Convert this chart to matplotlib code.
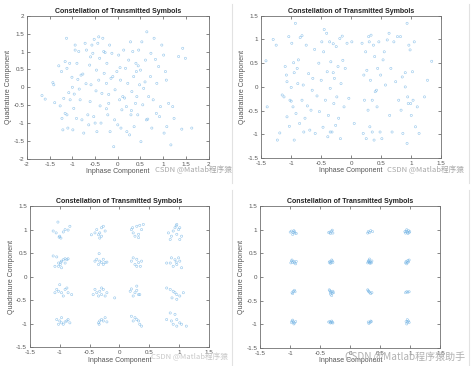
import matplotlib.pyplot as plt
from matplotlib.lines import Line2D

# Panel 1: received symbols, heavy noise
i1 = [-1.67, -1.60, -1.43, -1.41, -1.39, -1.30, -1.27, -1.24, -1.23, -1.21, -1.19, -1.16, -1.16, -1.13,
      -1.12, -1.12, -1.10, -1.08, -1.06, -1.05, -1.01, -0.99, -0.97, -0.96, -0.94, -0.94, -0.91, -0.90,
      -0.88, -0.86, -0.83, -0.81, -0.79, -0.77, -0.75, -0.72, -0.69, -0.66, -0.64, -0.62, -0.61, -0.59,
      -0.57, -0.55, -0.53, -0.52, -0.50, -0.47, -0.46, -0.44, -0.42, -0.42, -0.40, -0.39, -0.37, -0.35,
      -0.33, -0.31, -0.30, -0.28, -0.25, -0.24, -0.22, -0.20, -0.20, -0.18, -0.17, -0.13, -0.11, -0.09,
      -0.07, -0.06, -0.02, 0.00, 0.02, 0.04, 0.06, 0.07, 0.09, 0.11, 0.13, 0.17, 0.19, 0.20, 0.22, 0.24,
      0.26, 0.28, 0.29, 0.31, 0.33, 0.35, 0.36, 0.39, 0.40, 0.41, 0.42, 0.44, 0.46, 0.48, 0.50, 0.51,
      0.53, 0.55, 0.57, 0.61, 0.63, 0.64, 0.66, 0.68, 0.72, 0.73, 0.75, 0.78, 0.80, 0.83, 0.85, 0.86,
      0.90, 0.92, 0.94, 0.97, 1.01, 1.02, 1.05, 1.07, 1.08, 1.12, 1.17, 1.21, 1.24, 1.34, 1.41, 1.43,
      1.49, 1.63, -0.70, -0.48, -0.15, 0.15, 0.45, -0.85, -0.25, 0.05, 0.30, 0.60, -1.00, -0.60]
q1 = [-0.23, -0.33, 0.13, 0.07, -0.43, 0.60, -0.52, 0.44, -0.87, -1.19, -0.31, 0.72, -0.73, 1.37,
      0.53, -0.77, -1.14, -0.15, 0.67, -0.35, 0.28, -1.19, -0.59, -0.19, 1.04, 1.18, -0.87, 0.67,
      0.22, 1.00, -0.35, 0.34, -0.91, 0.37, -1.28, 1.23, 1.04, -0.77, -1.05, 0.62, -0.40, 0.07,
      1.18, 0.95, -0.82, 1.34, -1.00, 0.48, -1.24, 1.23, 0.20, 1.41, 0.81, -0.52, -1.00, -0.17,
      1.37, 1.00, 0.39, 0.97, 0.11, 0.67, -0.77, -0.20, -0.45, 1.18, -1.24, 0.95, 0.30, -1.66,
      -0.91, -0.07, 0.44, -1.05, 0.90, -0.35, 0.20, -1.14, -0.63, -0.26, 1.04, 0.53, -0.54, -1.24, 0.11, 0.76,
      -1.33, 1.27, -0.77, -0.12, 1.00, 0.30, -1.10, -0.45, 0.67, 0.44, -0.26, -0.77, 1.04, 0.07, 0.48, -1.52,
      1.27, -0.49, -0.03, 0.76, -0.91, 1.55, -0.89, -0.26, 0.30, 0.95, -1.14, -0.35, 1.37, 0.78, -0.73, 0.11,
      0.58, -0.82, -0.54, 1.18, 0.90, -1.28, 0.44, 0.20, -1.10, -0.45, -1.61, -0.54, -0.87, 0.86, -1.17, 1.09,
      0.81, -1.14, 0.10, -0.10, 0.25, -0.30, 0.60, -0.05, -0.60, 0.55, -0.65, 0.15, 0.00, 0.85]

# Panel 2: received symbols, medium noise
i2 = [-1.42, -1.40, -1.30, -1.25, -1.23, -1.19, -1.15, -1.12, -1.10, -1.08, -1.07, -1.07, -1.04, -1.03,
      -1.02, -1.00, -0.99, -0.97, -0.96, -0.95, -0.93, -0.92, -0.90, -0.89, -0.88, -0.86, -0.85, -0.82,
      -0.82, -0.80, -0.79, -0.77, -0.75, -0.73, -0.71, -0.69, -0.67, -0.65, -0.64, -0.61, -0.60, -0.57,
      -0.54, -0.53, -0.50, -0.49, -0.47, -0.46, -0.45, -0.43, -0.41, -0.40, -0.39, -0.38, -0.36, -0.35,
      -0.34, -0.32, -0.30, -0.29, -0.28, -0.26, -0.25, -0.24, -0.22, -0.21, -0.19, -0.18, -0.17, -0.15,
      -0.14, -0.12, -0.10, -0.07, -0.04, 0.01, 0.05, 0.18, 0.20, 0.21, 0.22, 0.24, 0.25, 0.26, 0.28,
      0.29, 0.31, 0.32, 0.33, 0.35, 0.37, 0.38, 0.39, 0.40, 0.42, 0.43, 0.44, 0.46, 0.48, 0.49, 0.51,
      0.53, 0.55, 0.57, 0.60, 0.63, 0.64, 0.66, 0.68, 0.71, 0.74, 0.77, 0.79, 0.82, 0.83, 0.85, 0.86,
      0.90, 0.93, 0.93, 0.94, 0.96, 0.98, 0.99, 1.00, 1.02, 1.03, 1.05, 1.07, 1.10, 1.13, 1.22, 1.27,
      1.34, -1.00, -0.30, 0.30, 0.95, -0.95, -0.35, 0.35, 0.90]
q2 = [0.55, -0.42, 1.00, 0.88, -1.12, -0.97, -0.17, -0.21, 0.43, 0.25, 0.11, -0.63, 1.06, -0.83,
      -0.28, -0.01, 0.92, -0.42, 0.51, -1.12, 1.34, -0.56, 0.39, 0.07, 0.57, -0.77, 1.04, 1.08,
      -0.28, 0.04, -0.95, -0.66, 0.88, -0.40, 0.28, -0.91, -0.49, -0.07, 0.18, 0.79, -0.98, -0.19,
      0.50, -0.52, 0.14, 0.95, -0.85, 0.74, 1.21, -0.28, 1.13, 0.32, -1.05, -0.60, 0.95, -0.03,
      0.53, -0.95, 0.91, -0.35, 0.18, -0.81, 0.85, -0.21, 0.43, -0.66, 1.02, -1.09, 0.07, 1.07,
      0.56, -0.42, 0.39, 0.92, -0.24, 0.95, -0.77, 0.92, -0.98, 0.25, -0.28, 0.74, -1.09, 0.35, -0.49,
      1.06, -0.84, 0.14, 1.09, -0.28, 0.88, -1.12, 0.64, -0.10, -0.07, -0.42, 0.39, 0.95, -0.95, 0.25, -1.09,
      0.57, 0.74, 0.04, 0.99, 1.13, -0.60, 0.39, -0.95, 0.95, 0.11, 1.06, -0.28, 1.06, -0.49, 0.21, -0.98,
      0.00, 1.34, -1.19, -0.21, 0.88, 0.78, -0.35, -0.60, 0.32, -0.28, 0.95, -0.84, -0.42, -0.98, -0.21, 0.14,
      0.54, -0.30, 0.30, 0.95, -0.35, 0.30, -0.95, -0.95, 0.30]

# Panel 3: 16-QAM, moderate noise
i3 = [-1.03, -1.11, -1.06, -1.00, -0.98, -0.91, -0.86, -0.83, -0.94, -1.01,
      -0.33, -0.30, -0.27, -0.35, -0.41, -0.47, -0.30, -0.24, -0.33, -0.38,
      0.20, 0.23, 0.29, 0.34, 0.40, 0.32, 0.26, 0.32, 0.22, 0.37,
      0.82, 0.87, 0.93, 0.96, 0.99, 1.01, 0.90, 0.96, 1.04, 1.01, 0.85, 0.95,
      -1.11, -1.05, -1.02, -0.99, -0.97, -0.94, -0.91, -0.88, -0.86, -1.02, -0.97, -1.08, -0.91, -0.98,
      -0.34, -0.38, -0.33, -0.27, -0.30, -0.24, -0.35, -0.41, -0.27, -0.21,
      0.23, 0.29, 0.32, 0.26, 0.35, 0.20, 0.37, 0.29,
      0.79, 0.85, 0.93, 0.99, 0.96, 0.90, 1.01, 1.04, 0.87, 0.95,
      -1.00, -1.08, -1.02, -0.97, -0.91, -0.88, -0.86, -0.80, -0.94, -1.05,
      -0.41, -0.38, -0.33, -0.30, -0.27, -0.24, -0.21, -0.35, -0.44, -0.30,
      -0.08, 0.18, 0.26, 0.29, 0.32, 0.23, 0.34, 0.20, 0.29,
      0.79, 0.85, 0.90, 0.93, 0.96, 1.01, 1.07, 0.88, 0.96,
      -1.05, -1.00, -0.97, -0.91, -0.88, -0.86, -1.02, -0.94, -0.83, -0.97,
      -0.35, -0.33, -0.30, -0.27, -0.24, -0.34, -0.21,
      0.20, 0.26, 0.29, 0.32, 0.34, 0.37, 0.23,
      0.85, 0.93, 0.79, 0.87, 0.96, 1.01, 0.90, 1.04, 1.12, 0.96]
q3 = [1.16, 0.97, 0.93, 0.86, 0.82, 1.00, 0.99, 1.07, 0.95, 0.84,
      0.93, 1.04, 1.07, 0.89, 0.93, 0.89, 0.86, 0.97, 0.82, 1.00,
      1.00, 0.93, 1.07, 1.09, 1.11, 0.90, 0.86, 0.83, 1.04, 1.00,
      0.93, 0.86, 1.04, 1.11, 1.00, 1.04, 0.97, 0.90, 0.86, 0.79, 0.79, 1.08,
      0.44, 0.42, 0.29, 0.26, 0.33, 0.36, 0.38, 0.36, 0.38, 0.22, 0.19, 0.22, 0.29, 0.31,
      0.49, 0.37, 0.33, 0.37, 0.30, 0.30, 0.26, 0.33, 0.26, 0.31,
      0.40, 0.37, 0.30, 0.26, 0.22, 0.33, 0.33, 0.22,
      0.29, 0.29, 0.36, 0.40, 0.26, 0.22, 0.33, 0.19, 0.40, 0.31,
      -0.17, -0.34, -0.31, -0.34, -0.27, -0.24, -0.34, -0.38, -0.41, -0.27,
      -0.27, -0.34, -0.31, -0.38, -0.27, -0.41, -0.34, -0.41, -0.38, -0.24,
      -0.45, -0.31, -0.34, -0.20, -0.38, -0.41, -0.38, -0.26, -0.29,
      -0.24, -0.27, -0.31, -0.34, -0.38, -0.41, -0.34, -0.45, -0.48,
      -0.91, -0.94, -0.98, -0.96, -0.94, -0.91, -1.01, -1.01, -0.98, -0.87,
      -0.98, -0.94, -0.91, -0.94, -0.87, -1.01, -0.96,
      -0.84, -0.87, -0.91, -0.94, -1.01, -1.05, -0.94,
      -0.77, -0.80, -0.91, -0.94, -0.91, -0.98, -1.01, -1.01, -1.05, -1.05]

# Panel 4: 16-QAM, low noise
i4 = [-0.98, -0.95, -0.93, -0.90, -0.96, -1.00, -0.94, -0.92,
      -0.34, -0.31, -0.29, -0.33, -0.36, -0.30,
      0.30, 0.32, 0.34, 0.37, 0.29,
      0.93, 0.95, 0.97, 0.92, 0.96, 0.99, 0.94, 0.91, 0.98,
      -0.98, -0.96, -0.93, -0.91, -0.97, -0.94, -0.99, -0.90,
      -0.34, -0.32, -0.30, -0.33, -0.29, -0.35, -0.31,
      0.30, 0.32, 0.34, 0.31, 0.33, 0.29, 0.36, 0.32, 0.31, 0.35,
      0.93, 0.95, 0.96, 0.92, 0.97, 0.94, 0.98,
      -0.97, -0.95, -0.93, -0.96, -0.92,
      -0.34, -0.32, -0.30, -0.33, -0.29, -0.35, -0.31, -0.28, -0.33,
      0.30, 0.32, 0.34, 0.31, 0.36, 0.29,
      0.94, 0.96, 0.92, 0.98,
      -0.97, -0.95, -0.93, -0.96, -0.94, -0.98, -0.91,
      -0.34, -0.32, -0.31, -0.33, -0.30, -0.36, -0.29,
      0.30, 0.33, 0.35, 0.31, 0.34,
      0.93, 0.95, 0.97, 0.95, 0.94, 0.98]
q4 = [0.97, 0.94, 0.96, 0.92, 0.90, 0.95, 0.98, 0.93,
      0.95, 0.97, 0.93, 0.92, 0.94, 0.99,
      0.96, 0.94, 0.98, 0.96, 0.93,
      0.97, 0.95, 0.98, 0.93, 0.92, 0.96, 1.00, 0.96, 0.94,
      0.34, 0.31, 0.30, 0.28, 0.36, 0.33, 0.30, 0.33,
      0.33, 0.31, 0.34, 0.29, 0.31, 0.31, 0.36,
      0.33, 0.31, 0.32, 0.35, 0.29, 0.30, 0.34, 0.38, 0.32, 0.30,
      0.33, 0.31, 0.35, 0.30, 0.32, 0.28, 0.36,
      -0.33, -0.30, -0.28, -0.35, -0.31,
      -0.29, -0.31, -0.34, -0.36, -0.30, -0.27, -0.39, -0.33, -0.32,
      -0.29, -0.32, -0.35, -0.31, -0.33, -0.27,
      -0.31, -0.32, -0.33, -0.31,
      -0.93, -0.95, -0.97, -0.91, -0.99, -0.96, -0.94,
      -0.94, -0.96, -0.93, -0.97, -0.95, -0.95, -0.97,
      -0.95, -0.96, -0.94, -0.98, -0.93,
      -0.94, -0.95, -0.93, -0.90, -0.99, -0.96]

ticks_wide = [-2, -1.5, -1, -0.5, 0, 0.5, 1, 1.5, 2]
ticks_narrow = [-1.5, -1, -0.5, 0, 0.5, 1, 1.5]

title = 'Constellation of Transmitted Symbols'
watermark = 'CSDN @Matlab程序猿'

plt.rcParams['font.family'] = ['Liberation Sans', 'DejaVu Sans']

fig = plt.figure(figsize=(4.74, 3.66), dpi=100)

panels = [
    (i1, q1, ticks_wide, [0.057, 0.566, 0.383, 0.391]),
    (i2, q2, ticks_narrow, [0.551, 0.568, 0.380, 0.389]),
    (i3, q3, ticks_narrow, [0.063, 0.051, 0.378, 0.386]),
    (i4, q4, ticks_narrow, [0.549, 0.049, 0.380, 0.388]),
]

for xs, ys, ticks, pos in panels:
    ax = fig.add_axes(pos)
    ax.scatter(xs, ys, s=2.5, facecolors='none', edgecolors='#6fb2e4', linewidths=0.4, alpha=0.75)
    ax.set_xlim(ticks[0], ticks[-1])
    ax.set_ylim(ticks[0], ticks[-1])
    ax.set_xticks(ticks)
    ax.set_yticks(ticks)
    ax.set_xticklabels([f'{t:g}' for t in ticks])
    ax.set_yticklabels([f'{t:g}' for t in ticks])
    ax.tick_params(direction='in', length=2, width=0.5, labelsize=4.5, colors='#555555',
                   top=True, right=True, pad=2)
    for sp in ax.spines.values():
        sp.set_color('#707070')
        sp.set_linewidth(0.6)
    ax.set_title(title, fontsize=5, fontweight='bold', pad=2, color='#222222')
    ax.set_xlabel('Inphase Component', fontsize=5, color='#555555', labelpad=1)
    ax.set_ylabel('Quadrature Component', fontsize=5, color='#555555', labelpad=1)

# watermarks
cjk = ['Noto Sans CJK SC', 'DejaVu Sans']
fig.text(0.327, 0.530, watermark, fontsize=5.5, color='#a8a8a8', family=cjk)
fig.text(0.816, 0.530, watermark, fontsize=5.5, color='#a8a8a8', family=cjk)
fig.text(0.318, 0.018, watermark, fontsize=5.5, color='#c8c8c8', family=cjk)
fig.text(0.728, 0.016, watermark + '助手', fontsize=7.2, color='#b0b0b0', family=cjk)

# window edges of the screenshot
for x0, y0, y1 in [(0.489, 0.5, 0.99), (0.990, 0.5, 0.99), (0.489, 0.0, 0.48), (0.990, 0.0, 0.48)]:
    fig.add_artist(Line2D([x0, x0], [y0, y1], color='#e2e2e2', linewidth=0.8))

fig.savefig('out.png', dpi=100)
